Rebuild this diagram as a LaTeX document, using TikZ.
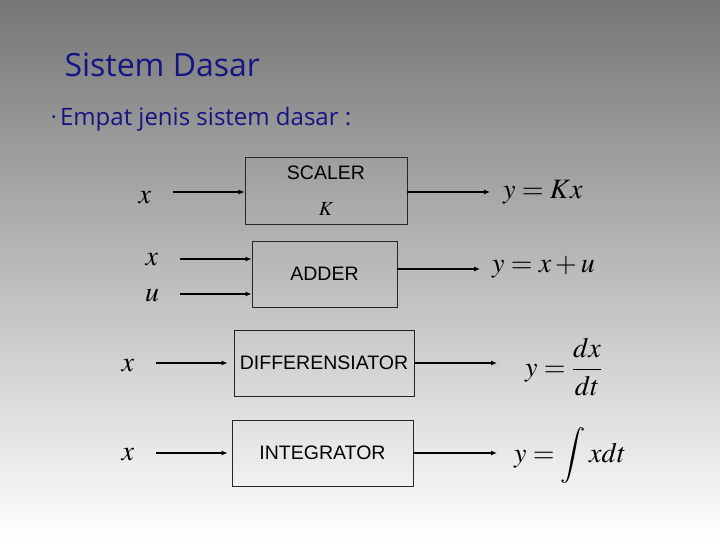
\documentclass[tikz,border=0pt]{standalone}
\usepackage{mathptmx}
\usepackage[no-math]{fontspec}
\setmainfont{Liberation Sans}
\newfontfamily\judulfont{Open Sans}
\usetikzlibrary{arrows.meta}
\definecolor{navy}{RGB}{20,20,130}
\definecolor{bgtop}{RGB}{118,118,118}

\begin{document}
\begin{tikzpicture}[x=1pt, y=-1pt,
  blok/.style={draw=black!85, line width=0.8pt, minimum height=66pt, font=\fontsize{19.5}{22}\selectfont},
  var/.style={inner sep=0pt, font=\fontsize{28}{30}\selectfont},
  rumus/.style={anchor=west, inner sep=0pt, font=\fontsize{28}{30}\selectfont},
  arr/.style={-{Latex[length=6pt,width=5pt]}, line width=1.1pt}]
  \useasboundingbox (0,0) rectangle (720,540);
  \shade[top color=bgtop, bottom color=white] (0,0) rectangle (720,540);
  \node[anchor=base west, navy, font=\judulfont\fontsize{32}{36}\selectfont] (judul) at (61,77) {Sistem Dasar};
  \node[anchor=base west, navy, font=\judulfont\fontsize{24}{28}\selectfont] (poin) at (48,126)
    {{\fontsize{12}{12}\selectfont\raisebox{4pt}{\textbullet}}\hspace{4pt}Empat jenis sistem dasar :};

  % blok sistem
  \node[blok, minimum width=162pt, minimum height=67pt, align=center, font=\fontsize{19.5}{36}\selectfont] (scaler) at (326,190.5)
    {SCALER\\{\fontsize{20}{20}\selectfont$K$}};
  \node[blok, minimum width=145pt] (adder) at (324.5,274) {ADDER};
  \node[blok, minimum width=180pt] (diff) at (324,363) {DIFFERENSIATOR};
  \node[blok, minimum width=181pt] (integ) at (322.5,453) {INTEGRATOR};

  % masukan
  \foreach \n/\p/\t in {xs/{145,198}/x, xa/{152,260}/x, ua/{152,296}/u, xd/{128,366}/x, xi/{128,455}/x}
    \node[var] (\n) at (\p) {$\t$};

  % keluaran
  \node[rumus] (ys) at (503,192) {$y=Kx$};
  \node[rumus] (ya) at (492,267) {$y=x+u$};
  \node[rumus] (yd) at (525,367) {$y=\displaystyle\frac{dx}{dt}$};
  \node[rumus] (yi) at (514,455) {$y=\displaystyle\int xdt$};

  \draw[arr, shorten <=22pt] ([yshift=-1.5pt]scaler.west -| xs.east) -- ([yshift=-1.5pt]scaler.west);
  \draw[arr, shorten >=13pt] ([yshift=-1.5pt]scaler.east) -- ([yshift=-1.5pt]scaler.east -| ys.west);
  \draw[arr, shorten <=22pt] ([yshift=15pt]adder.west -| xa.east) -- ([yshift=15pt]adder.west);
  \draw[arr, shorten <=21pt] ([yshift=-20pt]adder.west -| ua.east) -- ([yshift=-20pt]adder.west);
  \draw[arr, shorten >=12pt] ([yshift=5pt]adder.east) -- ([yshift=5pt]adder.east -| ya.west);
  \draw[arr, shorten <=22pt, shorten >=6pt] (xd.east |- diff.west) -- (diff.west);
  \draw[arr, shorten >=28pt] (diff.east) -- (diff.east -| yd.west);
  \draw[arr, shorten <=22pt, shorten >=4pt] (xi.east |- integ.west) -- (integ.west);
  \draw[arr, shorten >=17pt] (integ.east) -- (integ.east -| yi.west);
\end{tikzpicture}
\end{document}
